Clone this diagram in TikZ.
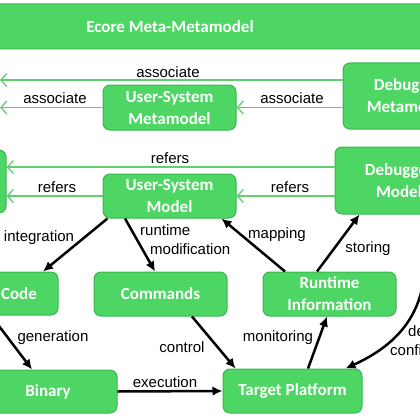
\documentclass[tikz,border=0pt]{standalone}
\usepackage{fontspec}
\setmainfont{Liberation Sans}
\newfontfamily\boxfont{Carlito}
\usetikzlibrary{arrows.meta}
\definecolor{boxgreen}{RGB}{77,214,99}
\definecolor{boxedge}{RGB}{58,182,80}
\definecolor{linegreen}{RGB}{98,206,114}
\begin{document}
\begin{tikzpicture}[x=1pt,y=-1pt,
  box/.style={draw=boxedge,fill=boxgreen,line width=1pt,rounded corners=7pt,
    text=white,font=\boxfont\bfseries\fontsize{17}{22}\selectfont,align=center,inner sep=0pt},
  lbl/.style={font=\fontsize{15}{19}\selectfont,inner sep=0pt,text=black},
  garrow/.style={draw=linegreen,line width=1.3pt,-{Straight Barb[length=6pt,width=13pt]}},
  barrow/.style={draw=black,line width=2.5pt,-{Latex[length=10pt,width=9.5pt]}},
]
\useasboundingbox (0,0) rectangle (420,420);
\clip (0,0) rectangle (420,420);
\fill[white] (0,0) rectangle (420,420);

% boxes
\node[box,minimum width=520pt,minimum height=45pt] (ecore) at (170,26.5) {Ecore Meta-Metamodel};
\node[box,minimum width=133pt,minimum height=45pt] (usmm) at (169.5,107.5) {User-System\\Metamodel};
\node[box,minimum width=130pt,minimum height=66pt] (dbgmm) at (408,96) {Debugger\\Metamodel};
\node[box,minimum width=92pt,minimum height=63pt] (leftbox) at (-40,181.5) {};
\node[box,minimum width=133pt,minimum height=44pt] (usm) at (169.5,196) {User-System\\Model};
\node[box,minimum width=128pt,minimum height=67pt] (dbgm) at (399,180.5) {Debugger\\Model};
\node[box,minimum width=78pt,minimum height=43pt] (code) at (19,293.5) {Code};
\node[box,minimum width=133pt,minimum height=44pt] (commands) at (160.5,294) {Commands};
\node[box,minimum width=133pt,minimum height=44pt] (rtinfo) at (329.5,294) {Runtime\\Information};
\node[box,minimum width=138pt,minimum height=43pt] (binary) at (48,391.5) {Binary};
\node[box,minimum width=139pt,minimum height=44pt] (target) at (292.5,391) {Target Platform};

% free ends
\coordinate (L1) at (0,80);
\coordinate (L2) at (0,107.5);
\coordinate (L3) at (0,167);
\coordinate (R1) at (424,276);

% green connectors
\draw[garrow] (dbgmm.west |- L1) -- (L1);
\draw[garrow] (usmm.west) -- (L2);
\draw[garrow] (dbgmm.west |- usmm.east) -- (usmm.east);
\draw[garrow] (dbgm.west |- L3) -- (leftbox.east |- L3);
\draw[garrow] (usm.west) -- (leftbox.east |- usm.west);
\draw[garrow] (dbgm.west |- usm.east) -- (usm.east);

\node[lbl] (la1) at (168,72) {associate};
\node[lbl] (la2) at (55,98) {associate};
\node[lbl] (la3) at (292,98) {associate};
\node[lbl] (lr1) at (170,158) {refers};
\node[lbl] (lr2) at (57,187) {refers};
\node[lbl] (lr3) at (290,187) {refers};

% black connectors
\draw[barrow] ([xshift=5pt]usm.south west) -- ([xshift=24pt]code.north);
\draw[barrow] ([xshift=-44.5pt]usm.south) -- ([xshift=-5.5pt]commands.north);
\draw[barrow] ([xshift=-44.5pt]rtinfo.north) -- ([xshift=-15pt]usm.south east);
\draw[barrow] ([xshift=-12.5pt]rtinfo.north) -- ([xshift=25pt]dbgm.south west);
\draw[barrow] ([xshift=-28pt]code.south) -- ([xshift=-16pt]binary.north);
\draw[barrow] ([xshift=31.5pt]commands.south) -- ([xshift=13pt]target.north west);
\draw[barrow] (binary.east) -- (target.west);
\draw[barrow] ([xshift=15.5pt]target.north) -- ([xshift=-2.5pt]rtinfo.south);
\draw[barrow] (R1) .. controls (419,325) and (386,350) .. ([xshift=-17pt]target.north east);

\node[lbl] (li) at (39,238) {integration};
\node[lbl,align=left,anchor=west] (lrm) at (140,239.5) {runtime\\\hspace*{10pt}modification};
\node[lbl] (lm) at (277,235) {mapping};
\node[lbl] (ls) at (368,249) {storing};
\node[lbl] (lg) at (53,338) {generation};
\node[lbl] (lc) at (182,347) {control};
\node[lbl] (le) at (165,382) {execution};
\node[lbl] (lmo) at (278,338) {monitoring};
\node[lbl,align=left,anchor=west] (ld) at (390,342.5) {\hspace*{18pt}deploy\\configuration};
\end{tikzpicture}
\end{document}
